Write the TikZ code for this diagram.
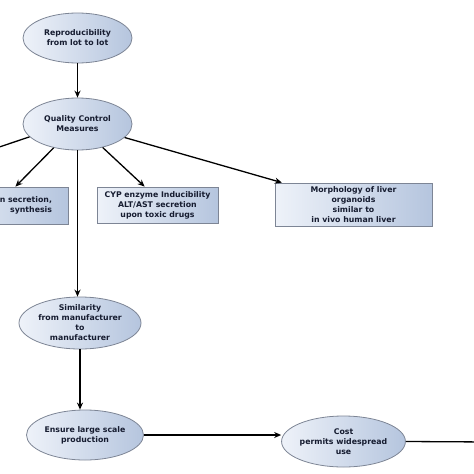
\documentclass[tikz,border=0pt]{standalone}
\usepackage{fontspec}
\setmainfont{DejaVu Sans}
\usepackage{xcolor}
\usepackage{tikz}
\usetikzlibrary{arrows.meta, shapes, positioning}

\definecolor{fillleft}{HTML}{EEF2F9}
\definecolor{fillright}{HTML}{B5C5DE}
\definecolor{rimgray}{HTML}{7D8595}
\definecolor{inknavy}{HTML}{161C30}

\begin{document}
\begin{tikzpicture}[
  x=1pt, y=-1pt,
  font=\fontsize{7.8}{10}\selectfont\bfseries,
  ovalnode/.style={
    draw=rimgray,
    line width=0.8pt,
    ellipse,
    align=center,
    inner sep=0pt,
    text=inknavy,
    left color=fillleft,
    right color=fillright
  },
  rectbox/.style={
    draw=rimgray,
    line width=0.8pt,
    rectangle,
    align=center,
    inner sep=1pt,
    text=inknavy,
    left color=fillleft,
    right color=fillright
  },
  arrow/.style={-{Stealth[length=7pt, width=6pt]}, line width=1.3pt},
  link/.style={line width=1.3pt}
]
\useasboundingbox (0,0) rectangle (474,474);
\clip (0,0) rectangle (474,474);

% Nodes
\node[ovalnode, minimum width=109pt, minimum height=50pt] (repro) at (77.5,38)
  {Reproducibility\\from lot to lot};
\node[ovalnode, minimum width=109pt, minimum height=52pt] (qc) at (77.5,124)
  {Quality Control\\Measures};
\node[rectbox, minimum width=138pt, minimum height=37pt, text width=106pt, align=right] (secretion) at (-1,205.5)
  {n secretion,\\synthesis};
\node[rectbox, minimum width=121pt, minimum height=36pt] (cyp) at (157.5,205)
  {CYP enzyme Inducibility\\ALT/AST secretion\\upon toxic drugs};
\node[rectbox, minimum width=157pt, minimum height=43pt] (morph) at (353.5,204.5)
  {Morphology of liver\\organoids\\similar to\\in vivo human liver};
\node[ovalnode, minimum width=122pt, minimum height=52pt] (similar) at (80,323)
  {Similarity\\from manufacturer\\to\\manufacturer};
\node[ovalnode, minimum width=117pt, minimum height=50pt] (largescale) at (85,435)
  {Ensure large scale\\production};
\node[ovalnode, minimum width=117pt, minimum height=51pt] (cost) at (343.5,441.5)
  {Cost\\permits widespread\\use};
\coordinate (offleft) at (-60,167);
\coordinate (offright) at (490,442);

% Arrows
\draw[arrow] (repro) -- (qc);
\draw[link] (qc.195) -- (offleft);
\draw[arrow] (qc.225) -- (secretion.49);
\draw[arrow] (qc.317) -- (cyp.125);
\draw[arrow] (qc.-16) -- (morph.163);
\draw[arrow] (qc.south) -- (qc.south |- similar.north);
\draw[arrow] (similar.south) -- (similar.south |- largescale.north);
\draw[arrow] (largescale.east) -- (largescale.east -| cost.west);
\draw[link] (cost.east) -- (offright);

\end{tikzpicture}
\end{document}
